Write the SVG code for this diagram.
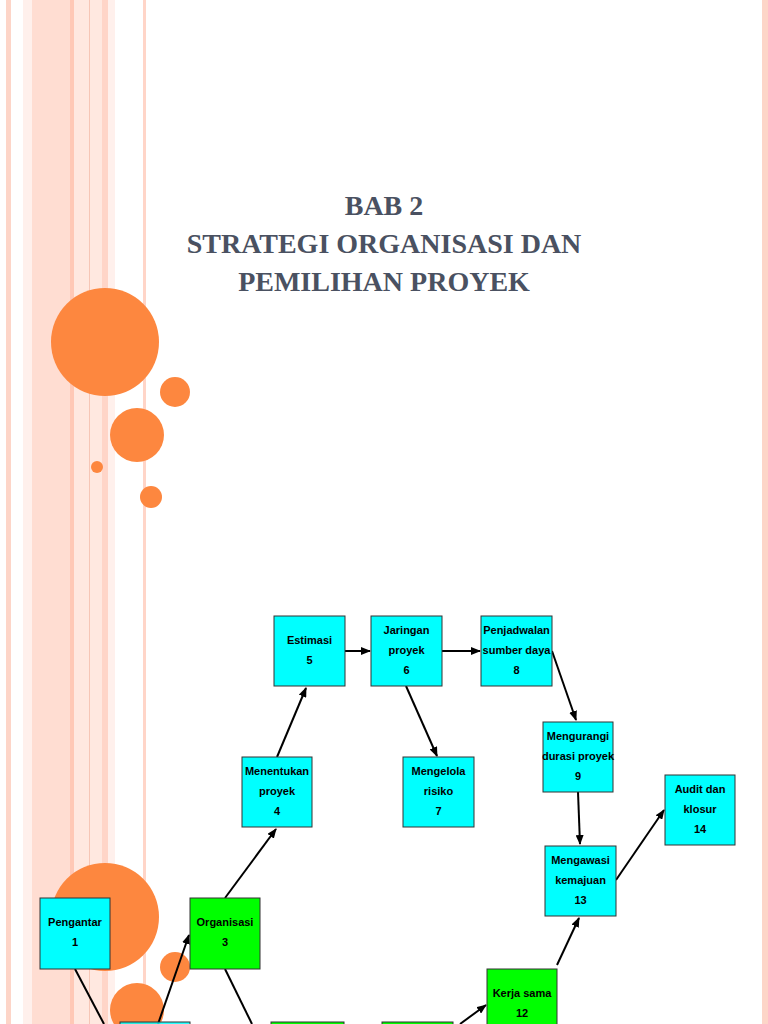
<svg xmlns="http://www.w3.org/2000/svg" width="768" height="1024" viewBox="0 0 768 1024">
<defs>
<marker id="ah" markerWidth="10" markerHeight="8" refX="9" refY="4" orient="auto" markerUnits="userSpaceOnUse"><path d="M0,0 L10,4 L0,8 z" fill="#000"/></marker>
<style>
.b{stroke:#333;stroke-width:1}
.c{fill:#00ffff}
.g{fill:#00ff00}
.t{font-family:"Liberation Sans",Arial,sans-serif;font-size:11px;font-weight:bold;text-anchor:middle;fill:#000;font-stretch:condensed}
.l{stroke:#000;stroke-width:2;fill:none}
.o{fill:#fd873f}
.ttl{font-family:"Liberation Serif","Times New Roman",serif;font-size:28px;font-weight:bold;fill:#4a5161;text-anchor:middle}
</style>
</defs>
<rect width="768" height="1024" fill="#fff"/>
<g id="stripes">
<rect x="6" y="0" width="5" height="1024" fill="#fdd5c8"/>
<rect x="23" y="0" width="9" height="1024" fill="#fff0ec"/>
<rect x="32" y="0" width="38" height="1024" fill="#ffddd2"/>
<rect x="70" y="0" width="4" height="1024" fill="#ffc8b6"/>
<rect x="74" y="0" width="28" height="1024" fill="#ffe8e0"/>
<rect x="89" y="0" width="1" height="1024" fill="#f6c6b6"/>
<rect x="102" y="0" width="6" height="1024" fill="#ffd5c8"/>
<rect x="108" y="0" width="7" height="1024" fill="#fff0ec"/>
<rect x="143" y="0" width="3" height="1024" fill="#ffd5c8"/>
<rect x="762" y="0" width="6" height="1024" fill="#fdd5c8"/>
</g>
<g id="circles">
<circle class="o" cx="105" cy="342" r="54"/>
<circle class="o" cx="175" cy="392" r="15"/>
<circle class="o" cx="137" cy="435" r="27"/>
<circle class="o" cx="97" cy="467" r="6"/>
<circle class="o" cx="151" cy="497" r="11"/>
<circle class="o" cx="105" cy="917" r="54"/>
<circle class="o" cx="175" cy="967" r="15"/>
<circle class="o" cx="137" cy="1010" r="27"/>
</g>
<g id="title">
<text class="ttl" x="384" y="215">BAB 2</text>
<text class="ttl" x="384" y="253">STRATEGI ORGANISASI DAN</text>
<text class="ttl" x="384" y="291">PEMILIHAN PROYEK</text>
</g>
<g id="connectors">
<line class="l" x1="345" y1="651" x2="370" y2="651" marker-end="url(#ah)"/>
<line class="l" x1="442" y1="651" x2="480" y2="651" marker-end="url(#ah)"/>
<line class="l" x1="552" y1="651" x2="576" y2="720" marker-end="url(#ah)"/>
<line class="l" x1="406" y1="686" x2="437" y2="756" marker-end="url(#ah)"/>
<line class="l" x1="277" y1="757" x2="306" y2="688" marker-end="url(#ah)"/>
<line class="l" x1="578" y1="792" x2="580" y2="844" marker-end="url(#ah)"/>
<line class="l" x1="616" y1="880" x2="664" y2="810" marker-end="url(#ah)"/>
<line class="l" x1="225" y1="898" x2="276" y2="829" marker-end="url(#ah)"/>
<line class="l" x1="75" y1="969" x2="104" y2="1024"/>
<line class="l" x1="158" y1="1024" x2="189" y2="935" marker-end="url(#ah)"/>
<line class="l" x1="225" y1="969" x2="252" y2="1024"/>
<line class="l" x1="460" y1="1024" x2="486" y2="1005" marker-end="url(#ah)"/>
<line class="l" x1="557" y1="965" x2="579" y2="918" marker-end="url(#ah)"/>
</g>
<g id="n5"><rect class="b c" x="274" y="616" width="71" height="70"/><text class="t" x="309.5" y="644">Estimasi</text><text class="t" x="309.5" y="664">5</text></g>
<g id="n6"><rect class="b c" x="371" y="616" width="71" height="70"/><text class="t" x="406.5" y="634">Jaringan</text><text class="t" x="406.5" y="654">proyek</text><text class="t" x="406.5" y="674">6</text></g>
<g id="n8"><rect class="b c" x="481" y="616" width="71" height="70"/><text class="t" x="516.5" y="634">Penjadwalan</text><text class="t" x="516.5" y="654">sumber daya</text><text class="t" x="516.5" y="674">8</text></g>
<g id="n9"><rect class="b c" x="543" y="722" width="70" height="70"/><text class="t" x="578" y="740">Mengurangi</text><text class="t" x="578" y="760">durasi proyek</text><text class="t" x="578" y="780">9</text></g>
<g id="n4"><rect class="b c" x="242" y="757" width="70" height="70"/><text class="t" x="277" y="775">Menentukan</text><text class="t" x="277" y="795">proyek</text><text class="t" x="277" y="815">4</text></g>
<g id="n7"><rect class="b c" x="403" y="757" width="71" height="70"/><text class="t" x="438.5" y="775">Mengelola</text><text class="t" x="438.5" y="795">risiko</text><text class="t" x="438.5" y="815">7</text></g>
<g id="n14"><rect class="b c" x="665" y="775" width="70" height="70"/><text class="t" x="700" y="793">Audit dan</text><text class="t" x="700" y="813">klosur</text><text class="t" x="700" y="833">14</text></g>
<g id="n13"><rect class="b c" x="545" y="846" width="71" height="70"/><text class="t" x="580.5" y="864">Mengawasi</text><text class="t" x="580.5" y="884">kemajuan</text><text class="t" x="580.5" y="904">13</text></g>
<g id="n1"><rect class="b c" x="40" y="898" width="70" height="71"/><text class="t" x="75" y="926">Pengantar</text><text class="t" x="75" y="946">1</text></g>
<g id="n3"><rect class="b g" x="190" y="898" width="70" height="71"/><text class="t" x="225" y="926">Organisasi</text><text class="t" x="225" y="946">3</text></g>
<g id="n12"><rect class="b g" x="487" y="969" width="70" height="70"/><text class="t" x="522" y="997">Kerja sama</text><text class="t" x="522" y="1017">12</text></g>
<g id="n2"><rect class="b c" x="120" y="1022" width="70" height="70" fill-opacity="0.85"/></g>
<g id="n10"><rect class="b g" x="271" y="1022" width="73" height="70"/></g>
<g id="n11"><rect class="b g" x="382" y="1022" width="71" height="70"/></g>
</svg>
